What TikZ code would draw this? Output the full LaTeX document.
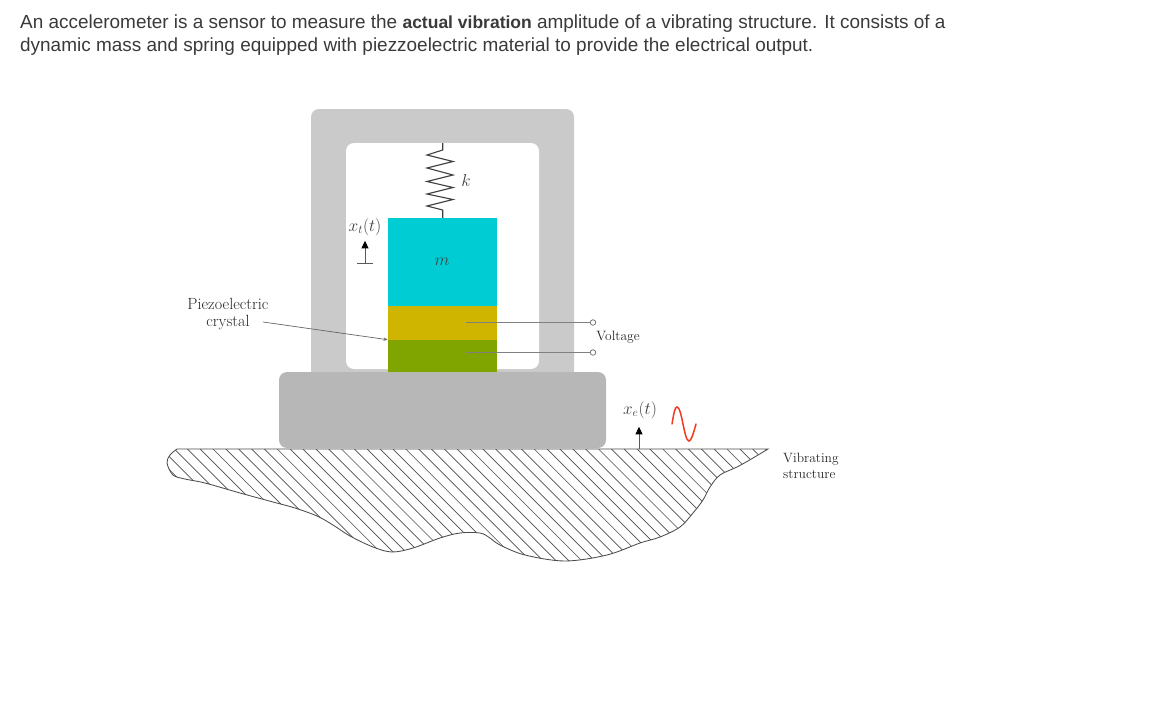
\documentclass[tikz,border=0pt]{standalone}
\usepackage{fontspec}
\setsansfont{Liberation Sans}
\usetikzlibrary{arrows.meta, positioning}

\definecolor{framegray}{HTML}{CACACA}
\definecolor{basegray}{HTML}{B7B7B7}
\definecolor{masscyan}{HTML}{00CDD3}
\definecolor{crystalyellow}{HTML}{CFB500}
\definecolor{crystalgreen}{HTML}{80A500}
\definecolor{wavered}{HTML}{F0391E}
\definecolor{captiongray}{HTML}{3A3A3A}

\newcommand{\groundoutline}{(177,449) -- (768,449)
    -- plot[smooth, tension=0.55] coordinates {(768,449) (753,458) (737,467) (720,475) (710,487) (703,500) (693,513) (680,527) (660,537) (640,543) (607,555) (565,561) (525,555) (500,545) (490,538) (480,533) (460,533) (440,538) (413,548) (392,552) (373,547) (350,536) (333,525) (317,516) (295,508) (273,502) (240,493) (205,483) (185,479) (173,475) (167,463) (170,455) (177,449)}}

\begin{document}
\begin{tikzpicture}[
    x=1pt, y=-1pt,
    every node/.style={font=\fontsize{13.5}{16}\selectfont, text=black!85, inner sep=0pt},
    mathlabel/.style={font=\fontsize{17}{20}\selectfont, text=black!75},
    block/.style={
        rectangle,
        inner sep=0pt,
        minimum width=109.5pt
    },
    housing/.style={
        rectangle,
        rounded corners=8pt,
        inner sep=0pt
    },
    wire/.style={
        draw=black!50,
        line width=0.9pt
    },
    terminal/.style={
        circle,
        draw=black!60,
        fill=white,
        line width=0.7pt,
        minimum size=5.5pt
    },
    arrow/.style={
        draw=black!65,
        line width=0.9pt,
        -{Triangle[length=7.5pt, width=7pt, color=black]}
    }
]
\useasboundingbox (0,0) rectangle (1152,720);

% Caption
\node[anchor=north west, align=left, text=captiongray,
      font=\sffamily\fontsize{18.95}{23.5}\selectfont] (caption) at (20,14.5)
    {An accelerometer is a sensor to measure the {\fontsize{17.5}{23.5}\selectfont\textbf{actual vibration}} amplitude of a vibrating structure. It consists of a\\
     dynamic mass and spring equipped with piezzoelectric material to provide the electrical output.};

% Housing and seismic mass
\node[housing, fill=framegray, minimum width=263pt, minimum height=275pt] (frame) at (442.5,246.5) {};
\node[housing, fill=white, minimum width=193pt, minimum height=226pt] (cavity) at (442.5,256) {};
\node[block, fill=masscyan, minimum height=88pt] (mass) at (442.5,262) {};
\node[block, fill=crystalyellow, minimum height=33.5pt, below=-0.4pt of mass] (crystal) {};
\node[block, fill=crystalgreen, minimum height=33.5pt, below=-0.4pt of crystal] (lower) {};
\node[housing, fill=basegray, minimum width=327pt, minimum height=76pt] (base) at (442.5,410) {};

% Vibrating structure
\begin{scope}
    \clip \groundoutline;
    \foreach \i in {-5,...,46} {
        \draw[black!70, line width=0.65pt] (187.3+12.85*\i,449) -- ++(140,140);
    }
\end{scope}
\draw[black!70, line width=0.85pt] \groundoutline;

% Spring
\coordinate (springtop) at (442.7,143);
\draw[black!75, line width=1.1pt] (springtop) -- (442.7,150) -- (427,155) -- (453,161.5)
    -- (427,168) -- (453,175) -- (427,181.5) -- (453,187.5) -- (427,194) -- (453,199.5)
    -- (427,206) -- (442.7,210) -- (springtop |- mass.north);
\node[mathlabel] (klabel) at (466,180) {$k$};
\node[mathlabel] (mlabel) at (442,262) {$m$};

% Mass displacement
\node[mathlabel] (xtlabel) at (365,227) {$x_t(t)$};
\coordinate (xtfoot) at (365,263);
\coordinate (xtbarl) at (357,263);
\coordinate (xtbarr) at (373,263);
\draw[arrow] (xtfoot) -- ([yshift=-5pt]xtlabel.south);
\draw[wire, draw=black!65] (xtbarl) -- (xtbarr);

% Crystal label
\node[align=center, font=\fontsize{16.2}{17}\selectfont] (piezo) at (228,314.5) {Piezoelectric\\crystal};
\draw[draw=black!60, line width=0.7pt, -{Stealth[length=4pt, width=3.5pt]}] (263,322) -- (crystal.south west);

% Voltage terminals
\coordinate (wiretop) at (466,322.5);
\coordinate (wirelow) at (466,352.5);
\node[terminal] (termtop) at (593,322.5) {};
\node[terminal] (termlow) at (593,352.5) {};
\draw[wire] (wiretop) -- (termtop);
\draw[wire] (wirelow) -- (termlow);
\node (voltage) at (618,337) {Voltage};

% Structure displacement
\node[mathlabel] (xelabel) at (640,410) {$x_e(t)$};
\coordinate (xefoot) at (639,449);
\draw[arrow] (xefoot) -- ([yshift=-8pt]xelabel.south -| xefoot);
\draw[wavered, line width=1.5pt, line cap=round]
    (672,424) .. controls (674,412) and (675,407) .. (677,407)
    .. controls (682,407) and (684,441) .. (689,441)
    .. controls (691,441) and (693,435) .. (696,424);
\node[align=left, anchor=west] (structure) at (783,466) {Vibrating\\structure};

\end{tikzpicture}
\end{document}
